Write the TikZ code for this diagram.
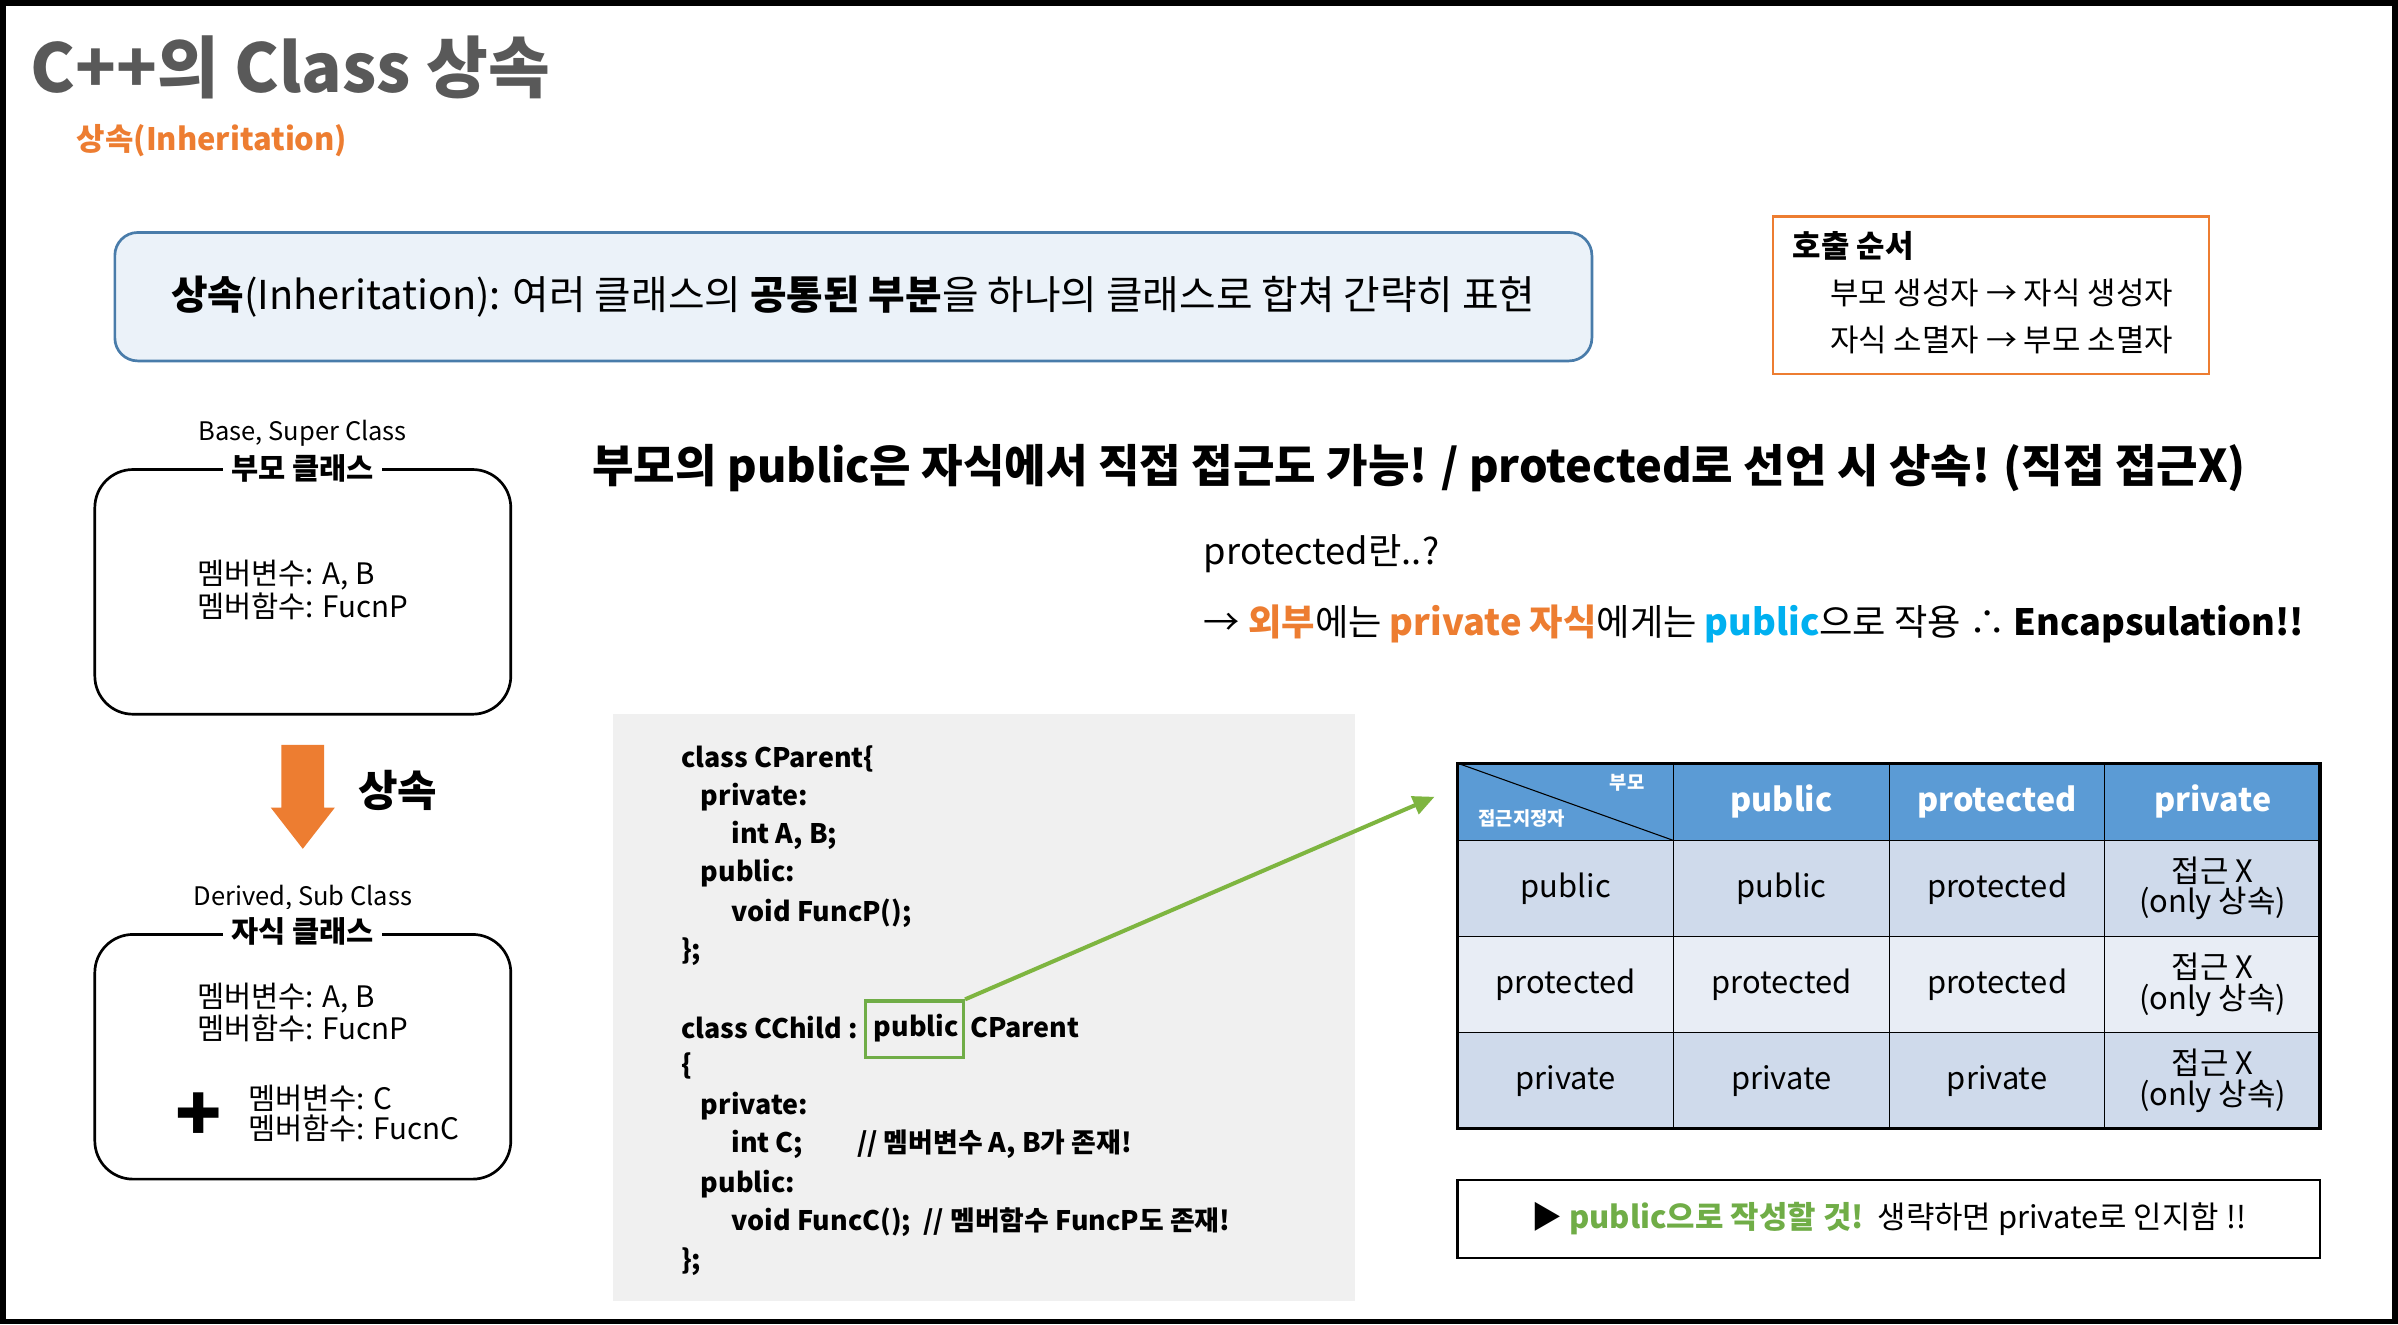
\documentclass[tikz,border=0pt]{standalone}
\usepackage{fontspec}
\setmainfont{Noto Sans CJK KR}
\usetikzlibrary{arrows.meta}
\definecolor{org}{HTML}{ED7D31}
\definecolor{grn}{HTML}{70AD47}
\definecolor{sky}{HTML}{00B0F0}
\definecolor{hdr}{HTML}{5B9BD5}
\definecolor{rowa}{HTML}{CFDAEB}
\definecolor{rowb}{HTML}{E8EDF5}
\newcommand{\fs}[1]{\fontsize{#1}{#1}\selectfont}
\tikzset{
 code/.style={anchor=west,inner sep=0pt,font=\fs{10}\bfseries},
 cell/.style={minimum width=2.82cm,minimum height=1.26cm,draw=black,inner sep=0pt,align=center,font=\fs{11.5}},
 hcell/.style={cell,fill=hdr,text=white,font=\fs{12}\bfseries,minimum height=1cm},
 clsbox/.style={draw,rounded corners=0.5cm,line width=1pt},
 lbl/.style={fill=white,inner sep=3pt,font=\fs{11}\bfseries},
}
\begin{document}
\begin{tikzpicture}[x=0.02cm,y=-0.02cm]
\useasboundingbox (0,0) rectangle (1568,866);
\fill[white] (0,0) rectangle (1568,866);
\draw[line width=2pt] (2,2) rectangle (1566,864);
\node[anchor=west,text=black!65,font=\fs{25}\bfseries] (title) at (14,44) {C++의 Class 상속};
\node[anchor=west,text=org,font=\fs{11.5}\bfseries] (sub) at (44,92) {상속(Inheritation)};
% definition box
\node[draw=hdr!80!black,fill=rowb!70!hdr!30,rounded corners=0.3cm,line width=1pt,minimum width=19.32cm,minimum height=1.68cm,font=\fs{14.8}] (def) at (558,194)
 {\textbf{상속}(Inheritation): 여러 클래스의 \textbf{공통된 부분}을 하나의 클래스로 합쳐 간략히 표현};
% order box
\node[draw=org,line width=0.8pt,minimum width=5.7cm,minimum height=2.06cm] (ord) at (1302,193) {};
\node[anchor=north west,align=left,font=\fs{11.5},inner sep=0pt] (ordt) at (1172,151)
 {\textbf{호출 순서}\\[6pt]\hspace{1.2em}부모 생성자 → 자식 생성자\\[6pt]\hspace{1.2em}자식 소멸자 → 부모 소멸자};
% parent
\draw[clsbox] (62,307) rectangle (334,467);
\node[font=\fs{9.5}] (pl1) at (198,283) {Base, Super Class};
\node[lbl] (pl2) at (198,306) {부모 클래스};
\node[align=left,font=\fs{11}] (pt) at (198,386) {멤버변수: A, B\\멤버함수: FucnP};
% arrow
\fill[org] (184,487) -- (212,487) -- (212,528) -- (219,528) -- (198,555) -- (177,528) -- (184,528) -- cycle;
\node[font=\fs{16}\bfseries] (inh) at (260,517) {상속};
% child
\draw[clsbox] (62,611) rectangle (334,771);
\node[font=\fs{9.5}] (cl1) at (198,587) {Derived, Sub Class};
\node[lbl] (cl2) at (198,609) {자식 클래스};
\node[align=left,font=\fs{11}] (ct) at (198,662) {멤버변수: A, B\\멤버함수: FucnP};
\node[font=\fs{18}\bfseries] (plus) at (130,728) {✚};
\node[align=left,anchor=west,font=\fs{11}] (ct2) at (156,728) {멤버변수: C\\멤버함수: FucnC};
% headline
\node[font=\fs{16.8}\bfseries] (head) at (928,306) {부모의 public은 자식에서 직접 접근도 가능! / protected로 선언 시 상속! (직접 접근X)};
\node[anchor=west,font=\fs{13.5}] (q) at (781,362) {protected란..?};
\node[anchor=west,font=\fs{13.5}] (ans) at (781,408) {→ \textbf{\color{org}외부}에는 \textbf{\color{org}private 자식}에게는 \textbf{\color{sky}public}으로 작용 ∴ \textbf{Encapsulation!!}};
% code
\fill[black!6] (401,467) rectangle (886,851);
\node[code] at (445,496) {class CParent\{};
\node[code] at (458,521) {private:};
\node[code] at (478,546) {int A, B;};
\node[code] at (458,571) {public:};
\node[code] at (478,597) {void FuncP();};
\node[code] at (445,622) {\};};
\node[code] at (445,672) {class CChild : };
\node[code] (pubw) at (571,672) {public};
\node[code] at (634,672) {CParent};
\node[code] at (445,697) {\{};
\node[code] at (458,723) {private:};
\node[code] at (478,748) {int C;\hspace{2em}// 멤버변수 A, B가 존재!};
\node[code] at (458,774) {public:};
\node[code] at (478,799) {void FuncC();\ \ // 멤버함수 FuncP도 존재!};
\node[code] at (445,825) {\};};
\node[draw=grn,line width=1.2pt,minimum width=1.28cm,minimum height=0.74cm] (gbox) at (598,673) {};
% table
\coordinate (tcorner) at (938,521);
\draw[grn!90!yellow,line width=1.5pt,-{Triangle[length=8pt,width=7pt]}] (gbox.north east) -- (tcorner);
\node[hcell,anchor=north west] (h0) at (953,499) {};
\draw (h0.north west) -- (h0.south east);
\node[font=\fs{7}\bfseries,text=white] at (1064,512) {부모};
\node[font=\fs{7}\bfseries,text=white] at (995,535) {접근지정자};
\node[hcell,anchor=north west] (h1) at (1094,499) {public};
\node[hcell,anchor=north west] (h2) at (1235,499) {protected};
\node[hcell,anchor=north west] (h3) at (1376,499) {private};
\foreach \r/\a/\b/\c/\y/\f in {1/public/public/protected/549/rowa,2/protected/protected/protected/612/rowb,3/private/private/private/675/rowa}{
 \node[cell,fill=\f,anchor=north west] (c\r0) at (953,\y) {\a};
 \node[cell,fill=\f,anchor=north west] (c\r1) at (1094,\y) {\b};
 \node[cell,fill=\f,anchor=north west] (c\r2) at (1235,\y) {\c};
 \node[cell,fill=\f,anchor=north west] (c\r3) at (1376,\y) {접근 X\\(only 상속)};
}
\draw[line width=1.2pt] (953,499) rectangle (1517,738);
% note
\node[draw,line width=0.8pt,minimum width=11.28cm,minimum height=1.02cm,font=\fs{11.5}] (note) at (1235,797)
 {▶ \textbf{\color{grn}public으로 작성할 것!}\ \ 생략하면 private로 인지함 !!};
\end{tikzpicture}
\end{document}
